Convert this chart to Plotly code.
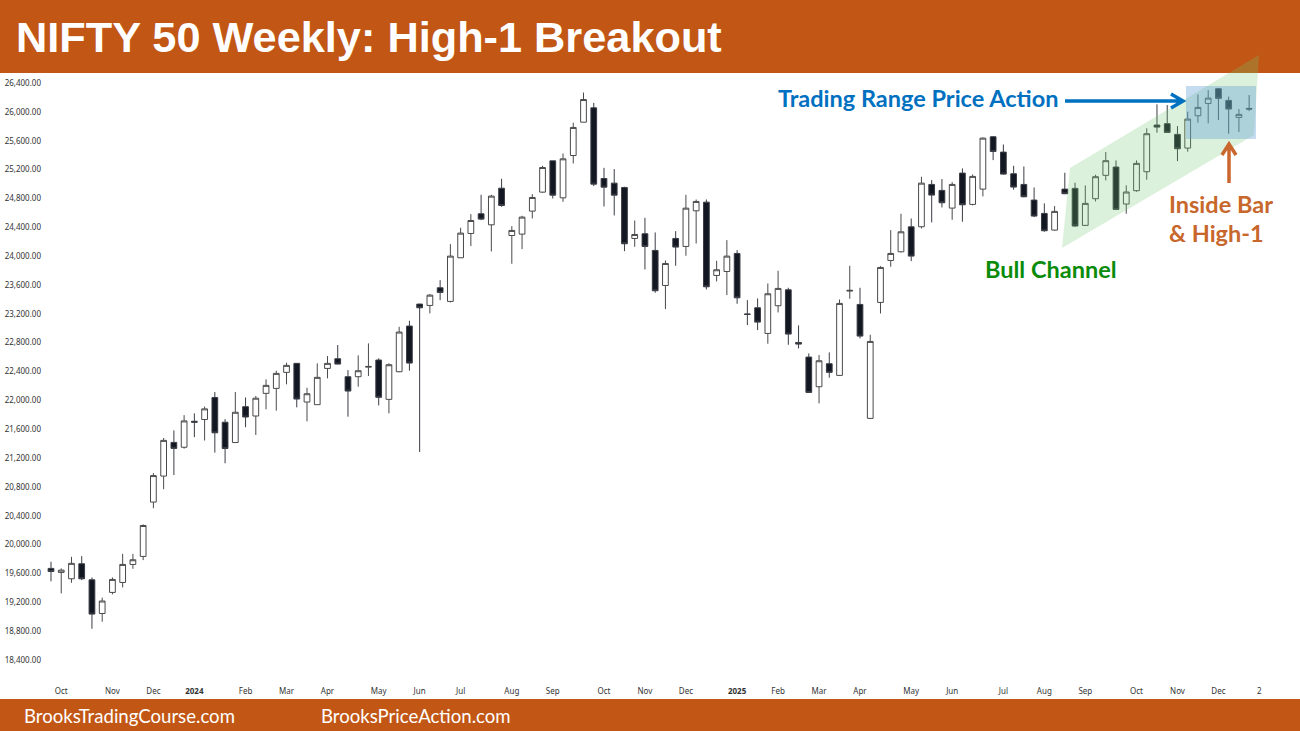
# plot.py - NIFTY 50 weekly candles with channel / range overlays
import plotly.graph_objects as go

W = 1300
H = 731

# weekly bars, Oct 2023 to Dec 2025
opens = [
    19670, 19614, 19526, 19734, 19512, 19045, 19337, 19475, 19725, 19836,
    20590, 20950, 21417, 21350, 21710, 21734, 22040, 21697, 21415, 21912,
    21783, 22097, 22166, 22388, 22513, 21977, 21940, 22443, 22577, 22328,
    22328, 22460, 22559, 22014, 22397, 23030, 23335, 23316, 23561, 23372,
    23977, 24314, 24587, 24434, 24942, 24286, 24305, 24624, 24887, 25321,
    24808, 25395, 25857, 26056, 25076, 25012, 24952, 24245, 24310, 24079,
    23593, 24245, 24134, 24628, 24748, 23732, 23787, 24037, 23198, 23284,
    22928, 23312, 23533, 22803, 22600, 22189, 22508, 22346, 23515, 23330,
    21750, 23358, 23940, 24060, 24406, 24407, 24994, 24911, 24666, 25151,
    24717, 24929, 25655, 25442, 25142, 24994, 24777, 24592, 24361, 24929,
    24939, 24426, 24796, 25120, 25235, 24722, 24907, 25170, 25817, 25836,
    25688, 25498, 25946, 26117, 26321, 26159, 25923, 26048,
]
highs = [
    19762, 19670, 19830, 19840, 19545, 19265, 19545, 19872, 19872, 20280,
    20990, 21478, 21583, 21795, 21820, 21914, 22115, 21740, 22115, 22040,
    22060, 22291, 22411, 22522, 22515, 22175, 22513, 22614, 22767, 22420,
    22624, 22790, 22582, 22513, 23020, 23104, 23340, 23475, 23667, 24166,
    24393, 24582, 24850, 24850, 25072, 24416, 24559, 24859, 25252, 25321,
    25423, 25849, 26268, 26125, 25224, 25206, 24961, 24494, 24531, 24328,
    23940, 24347, 24850, 24785, 24785, 23935, 24222, 24083, 23390, 23413,
    23621, 23797, 23561, 23039, 22651, 22628, 22665, 23399, 23866, 23561,
    22910, 23861, 24360, 24587, 24522, 25100, 25054, 25068, 25026, 25216,
    25133, 25645, 25664, 25548, 25253, 25243, 24952, 24731, 24694, 25156,
    25017, 24980, 25128, 25443, 25327, 24981, 25327, 25771, 26104, 26094,
    25803, 26002, 26242, 26302, 26325, 26210, 26039, 26233,
]
lows = [
    19490, 19323, 19470, 19508, 18833, 18930, 19310, 19406, 19665, 19785,
    20505, 20768, 20965, 21330, 21490, 21443, 21275, 21128, 21410, 21628,
    21520, 21875, 21857, 22222, 21903, 21709, 21940, 22305, 22500, 21774,
    22190, 22337, 21930, 21820, 22390, 22411, 21284, 23206, 23390, 23358,
    23975, 24139, 24499, 24065, 24684, 23894, 24097, 24522, 24878, 24799,
    24753, 25284, 25855, 24970, 24688, 24564, 24069, 24129, 23815, 23492,
    23265, 23866, 24005, 24175, 23538, 23649, 23459, 23339, 23044, 22974,
    22785, 23219, 22771, 22720, 22106, 21958, 22314, 22341, 23409, 22859,
    21741, 23205, 23852, 24051, 23930, 24384, 24467, 24675, 24504, 24477,
    24703, 24828, 25331, 25130, 24920, 24814, 24541, 24338, 24352, 24860,
    24407, 24417, 24758, 25050, 24639, 24588, 24893, 25059, 25711, 25711,
    25318, 25448, 25849, 25840, 25886, 25697, 25720, 26011,
]
closes = [
    19627, 19646, 19740, 19526, 19036, 19218, 19517, 19725, 19790, 20265,
    20957, 21445, 21334, 21715, 21697, 21882, 21550, 21332, 21835, 21769,
    22030, 22208, 22374, 22485, 22018, 22092, 22319, 22513, 22503, 22129,
    22411, 22470, 22042, 22494, 22947, 22517, 23284, 23459, 23496, 24000,
    24319, 24494, 24513, 24832, 24702, 24356, 24541, 24813, 25229, 24845,
    25349, 25784, 26171, 24998, 24956, 24845, 24171, 24300, 24134, 23520,
    23898, 24125, 24665, 24758, 23575, 23811, 24000, 23422, 23192, 23085,
    23478, 23552, 22919, 22780, 22110, 22549, 22388, 23344, 23525, 22891,
    22817, 23843, 24037, 24337, 24000, 25012, 24846, 24740, 24994, 24712,
    25105, 25636, 25451, 25137, 24957, 24823, 24555, 24352, 24620, 24865,
    24417, 24731, 25101, 25323, 24648, 24889, 25286, 25697, 25789, 25715,
    25489, 25900, 26062, 26191, 26187, 26039, 25965, 26039,
]
weeks = list(range(1, len(opens) + 1))

month_ticks = [2, 7, 11, 15, 20, 24, 28, 33, 37, 41, 46, 50, 55, 59, 63, 68,
               72, 76, 80, 85, 89, 94, 98, 102, 107, 111, 115, 119]
month_labels = ["Oct", "Nov", "Dec", "<b>2024</b>", "Feb", "Mar", "Apr", "May",
                "Jun", "Jul", "Aug", "Sep", "Oct", "Nov", "Dec", "<b>2025</b>",
                "Feb", "Mar", "Apr", "May", "Jun", "Jul", "Aug", "Sep", "Oct",
                "Nov", "Dec", "2"]
price_ticks = list(range(18400, 26401, 400))

ORANGE = "#C25715"
UI_FONT = "Lato"


def px(x):
    return x / W


def py(y):
    return 1 - y / H


def poly(points, close=True):
    d = " ".join(("M" if i == 0 else "L") + f"{px(x):.5f},{py(y):.5f}"
                 for i, (x, y) in enumerate(points))
    return d + (" Z" if close else "")


def rect(x0, y0, x1, y1, color):
    return dict(type="rect", xref="paper", yref="paper", x0=px(x0), x1=px(x1),
                y0=py(y1), y1=py(y0), fillcolor=color, line_width=0, layer="above")


def label(x, y, text, size, color, family=UI_FONT, bold=True):
    return dict(xref="paper", yref="paper", x=px(x), y=py(y), xanchor="left",
                yanchor="middle", showarrow=False,
                text=f"<b>{text}</b>" if bold else text,
                font=dict(family=family, size=size, color=color))


fig = go.Figure(go.Candlestick(
    x=weeks, open=opens, high=highs, low=lows, close=closes,
    increasing=dict(fillcolor="#FFFFFF", line=dict(color="#4A4A4A", width=1)),
    decreasing=dict(fillcolor="#131722", line=dict(color="#3A3D45", width=1)),
    whiskerwidth=0,
    hoverinfo="skip",
))

shapes = [
    rect(0, 0, W, 73, ORANGE),
    rect(0, 699, W, H, ORANGE),
    # bull channel
    dict(type="path", xref="paper", yref="paper", layer="above", line_width=0,
         fillcolor="rgba(110,200,110,0.25)",
         path=poly([(1070, 168), (1062, 248), (1254, 135), (1259, 55)])),
    # trading range box
    rect(1186, 86, 1256, 139, "rgba(91,155,213,0.36)"),
    # arrows
    dict(type="path", xref="paper", yref="paper", layer="above",
         line=dict(color="#0070C0", width=3.5),
         path=poly([(1065, 101), (1183, 101)], False) + " "
         + poly([(1171, 94), (1183, 101), (1171, 108)], False)),
    dict(type="path", xref="paper", yref="paper", layer="above",
         line=dict(color="#C9672E", width=3.5),
         path=poly([(1229, 183), (1229, 144)], False) + " "
         + poly([(1222, 155), (1229, 144), (1236, 155)], False)),
]

annotations = [
    label(14, 37, "NIFTY 50 Weekly: High-1 Breakout", 43.3, "#FFFFFF", "Liberation Sans"),
    label(22, 716, "BrooksTradingCourse.com", 18.6, "#FFFFFF", bold=False),
    label(319, 716, "BrooksPriceAction.com", 18.6, "#FFFFFF", bold=False),
    label(776, 98, "Trading Range Price Action", 23.5, "#0070C0"),
    label(983, 269, "Bull Channel", 23.5, "#0A8C0A"),
    label(1167, 204, "Inside Bar", 23.5, "#C8672C"),
    label(1167, 233, "&amp; High-1", 23.5, "#C8672C"),
]

fig.update_layout(
    width=W, height=H,
    margin=dict(l=0, r=0, t=0, b=0),
    paper_bgcolor="#FFFFFF",
    plot_bgcolor="#FFFFFF",
    showlegend=False,
    boxgap=0.2,
    shapes=shapes,
    annotations=annotations,
    xaxis=dict(
        domain=[px(43), px(1264)],
        range=[0.22, 119.45],
        rangeslider=dict(visible=False),
        tickmode="array", tickvals=month_ticks, ticktext=month_labels,
        showgrid=False, zeroline=False, showline=False, ticks="",
        ticklabelstandoff=2,
        tickfont=dict(family="Noto Sans", size=8, color="#333333"),
    ),
    yaxis=dict(
        domain=[py(683), py(73)],
        range=[18081, 26539],
        tickmode="array", tickvals=price_ticks, tickformat=",.2f",
        showgrid=False, zeroline=False, showline=False, ticks="",
        ticklabelstandoff=1,
        tickfont=dict(family="Noto Sans", size=8, color="#333333"),
    ),
)

fig.write_html("out.html", post_script="document.body.style.margin='0';",
               config=dict(displayModeBar=False))
